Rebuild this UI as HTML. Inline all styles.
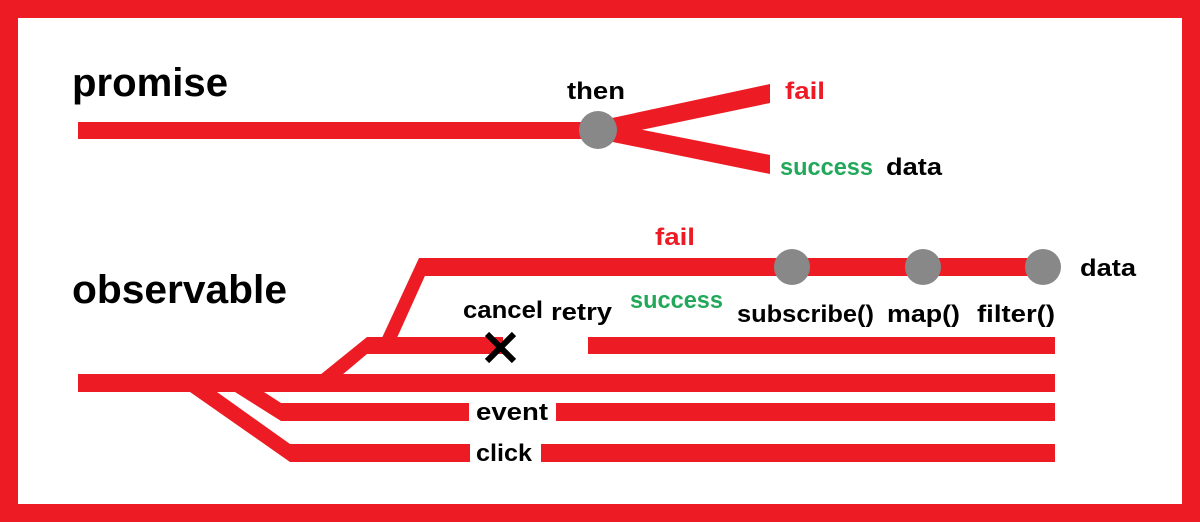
<!DOCTYPE html>
<html><head><style>body{margin:0}svg{display:block}</style></head><body>
<svg width="1200" height="522" viewBox="0 0 1200 522" xmlns="http://www.w3.org/2000/svg" font-family="Liberation Sans, sans-serif" font-weight="bold">
<rect x="0" y="0" width="1200" height="522" fill="#ed1c24"/>
<rect x="18" y="18" width="1164" height="486" fill="#fff"/>
<g fill="#ed1c24">
<rect x="78" y="122" width="520" height="17"/>
<polygon points="598,121 770,84 770,103 598,139"/>
<polygon points="598,121 770,155 770,174 598,139"/>
<rect x="419" y="258" width="626" height="18"/>
<polygon points="419,258 433,258 396,340 381,340"/>
<rect x="367" y="337" width="136" height="17"/>
<polygon points="367,337 367,354 342,375 320,375"/>
<rect x="588" y="337" width="467" height="17"/>
<rect x="78" y="374" width="977" height="18"/>
<polygon points="235,392 264,392 281,403 281,421"/>
<rect x="281" y="403" width="188" height="18"/>
<rect x="556" y="403" width="499" height="18"/>
<polygon points="190,392 217,392 290,444 290,462"/>
<rect x="290" y="444" width="180" height="18"/>
<rect x="541" y="444" width="514" height="18"/>
</g>
<g fill="#888">
<circle cx="598" cy="130" r="19"/>
<circle cx="792" cy="267" r="18"/>
<circle cx="923" cy="267" r="18"/>
<circle cx="1043" cy="267" r="18"/>
</g>
<path d="M487,334 L514,361 M514,334 L487,361" stroke="#000" stroke-width="6"/>
<g font-size="40" fill="#000">
<text x="72" y="96" textLength="156" lengthAdjust="spacingAndGlyphs">promise</text>
<text x="72" y="303" textLength="215" lengthAdjust="spacingAndGlyphs">observable</text>
</g>
<g font-size="24" fill="#000">
<text x="567" y="99" textLength="58" lengthAdjust="spacingAndGlyphs">then</text>
<text x="886" y="175" textLength="56" lengthAdjust="spacingAndGlyphs">data</text>
<text x="1080" y="276" textLength="56" lengthAdjust="spacingAndGlyphs">data</text>
<text x="463" y="318" textLength="80" lengthAdjust="spacingAndGlyphs">cancel</text>
<text x="551" y="320" textLength="61" lengthAdjust="spacingAndGlyphs">retry</text>
<text x="737" y="322" textLength="137" lengthAdjust="spacingAndGlyphs">subscribe()</text>
<text x="887" y="322" textLength="73" lengthAdjust="spacingAndGlyphs">map()</text>
<text x="977" y="322" textLength="78" lengthAdjust="spacingAndGlyphs">filter()</text>
<text x="476" y="420" textLength="72" lengthAdjust="spacingAndGlyphs">event</text>
<text x="476" y="461" textLength="56" lengthAdjust="spacingAndGlyphs">click</text>
</g>
<g font-size="24">
<text x="785" y="99" fill="#ed1c24" textLength="40" lengthAdjust="spacingAndGlyphs">fail</text>
<text x="780" y="175" fill="#22a85a" textLength="93" lengthAdjust="spacingAndGlyphs">success</text>
<text x="655" y="245" fill="#ed1c24" textLength="40" lengthAdjust="spacingAndGlyphs">fail</text>
<text x="630" y="308" fill="#22a85a" textLength="93" lengthAdjust="spacingAndGlyphs">success</text>
</g>
</svg>
</body></html>
